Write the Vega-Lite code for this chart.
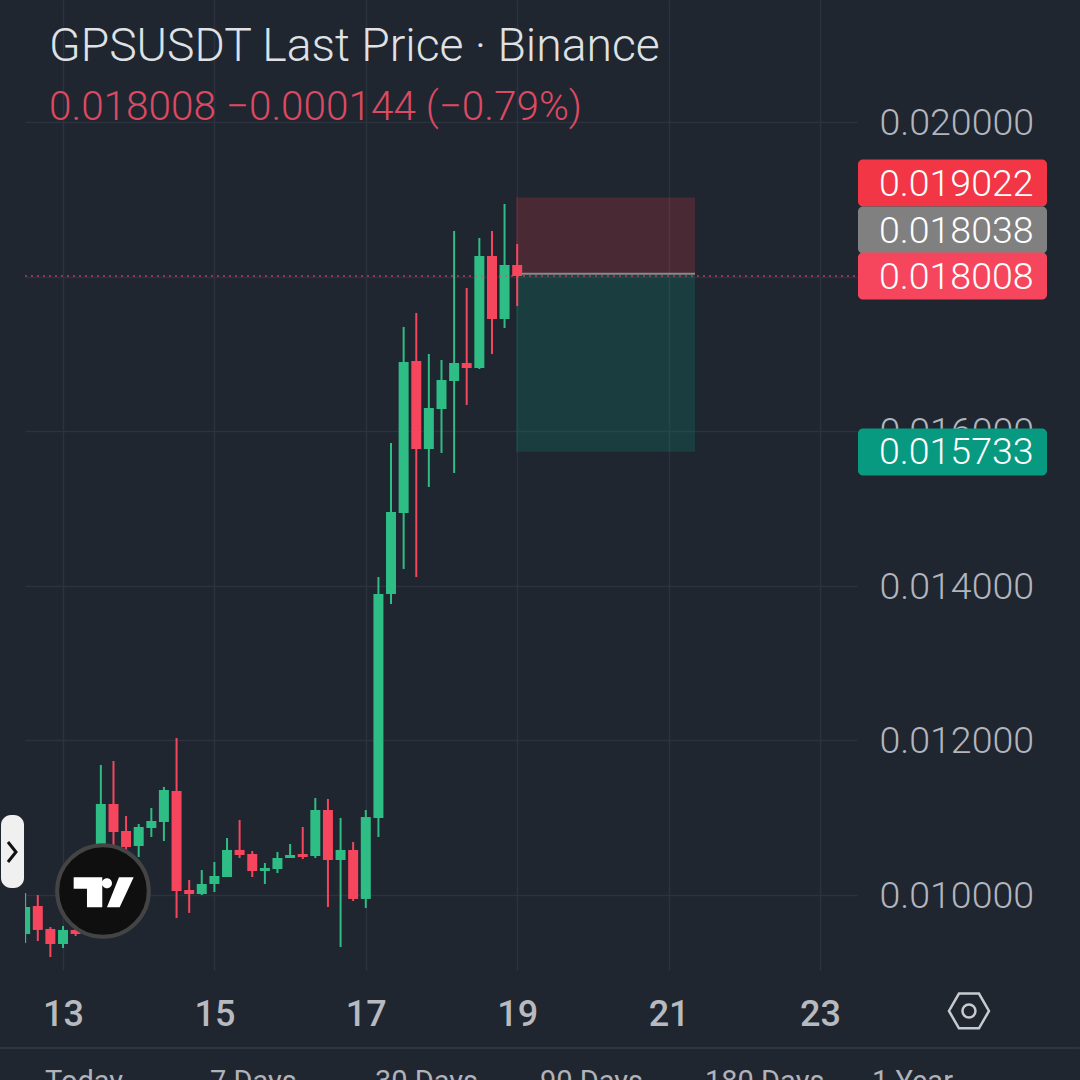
{
  "$schema": "https://vega.github.io/schema/vega-lite/v6.json",
  "width": 832,
  "height": 970,
  "autosize": {"type": "none"},
  "padding": {"left": 25, "top": 0, "right": 223, "bottom": 110},
  "background": "#1f2630",
  "config": {
    "view": {"stroke": null},
    "font": "Roboto"
  },
  "title": {
    "text": "GPSUSDT Last Price · Binance",
    "subtitle": "0.018008  −0.000144 (−0.79%)",
    "anchor": "start",
    "frame": "group",
    "offset": -128,
    "dx": 24,
    "font": "Roboto",
    "fontSize": 46.3,
    "fontWeight": 300,
    "color": "#dfe1e5",
    "subtitleFont": "Roboto",
    "subtitleFontSize": 40.5,
    "subtitleFontWeight": 300,
    "subtitleColor": "#dc4a62",
    "subtitlePadding": 17
  },
  "datasets": {
    "candles": [
      {"t": 12.5, "open": 0.009495, "close": 0.009844, "high": 0.010026, "low": 0.009378},
      {"t": 12.667, "open": 0.009857, "close": 0.009547, "high": 0.009999, "low": 0.009404},
      {"t": 12.833, "open": 0.00956, "close": 0.009365, "high": 0.009585, "low": 0.009197},
      {"t": 13, "open": 0.009365, "close": 0.009547, "high": 0.009598, "low": 0.009314},
      {"t": 13.167, "open": 0.009547, "close": 0.009495, "high": 0.009572, "low": 0.009469},
      {"t": 13.333, "open": 0.009611, "close": 0.00987, "high": 0.009935, "low": 0.009547},
      {"t": 13.5, "open": 0.010452, "close": 0.011177, "high": 0.011681, "low": 0.010323},
      {"t": 13.667, "open": 0.011177, "close": 0.010814, "high": 0.011733, "low": 0.010582},
      {"t": 13.833, "open": 0.010827, "close": 0.01062, "high": 0.011021, "low": 0.010452},
      {"t": 14, "open": 0.010633, "close": 0.010879, "high": 0.010918, "low": 0.010491},
      {"t": 14.167, "open": 0.010866, "close": 0.010957, "high": 0.011125, "low": 0.01075},
      {"t": 14.333, "open": 0.010944, "close": 0.011358, "high": 0.011397, "low": 0.010698},
      {"t": 14.5, "open": 0.011345, "close": 0.010051, "high": 0.012031, "low": 0.009702},
      {"t": 14.667, "open": 0.010064, "close": 0.010012, "high": 0.010193, "low": 0.009767},
      {"t": 14.833, "open": 0.010012, "close": 0.010142, "high": 0.010323, "low": 0.009999},
      {"t": 15, "open": 0.010142, "close": 0.010245, "high": 0.010426, "low": 0.010038},
      {"t": 15.167, "open": 0.010232, "close": 0.010582, "high": 0.010737, "low": 0.010232},
      {"t": 15.333, "open": 0.010582, "close": 0.010517, "high": 0.01097, "low": 0.010478},
      {"t": 15.5, "open": 0.01053, "close": 0.01031, "high": 0.010569, "low": 0.010232},
      {"t": 15.667, "open": 0.01031, "close": 0.010349, "high": 0.010413, "low": 0.010142},
      {"t": 15.833, "open": 0.010336, "close": 0.010478, "high": 0.010556, "low": 0.010284},
      {"t": 16, "open": 0.010478, "close": 0.010517, "high": 0.010659, "low": 0.010478},
      {"t": 16.167, "open": 0.01053, "close": 0.010491, "high": 0.010879, "low": 0.010465},
      {"t": 16.333, "open": 0.010504, "close": 0.011099, "high": 0.011254, "low": 0.010478},
      {"t": 16.5, "open": 0.011099, "close": 0.010452, "high": 0.011241, "low": 0.009844},
      {"t": 16.667, "open": 0.010452, "close": 0.010582, "high": 0.010996, "low": 0.009327},
      {"t": 16.833, "open": 0.010582, "close": 0.009948, "high": 0.010685, "low": 0.009922},
      {"t": 17, "open": 0.009948, "close": 0.011008, "high": 0.011099, "low": 0.009831},
      {"t": 17.167, "open": 0.010996, "close": 0.013893, "high": 0.014113, "low": 0.01075},
      {"t": 17.333, "open": 0.013893, "close": 0.014954, "high": 0.015847, "low": 0.013764},
      {"t": 17.5, "open": 0.014941, "close": 0.016895, "high": 0.017348, "low": 0.014217},
      {"t": 17.667, "open": 0.016908, "close": 0.015769, "high": 0.017529, "low": 0.014113},
      {"t": 17.833, "open": 0.015769, "close": 0.0163, "high": 0.016998, "low": 0.015278},
      {"t": 18, "open": 0.016287, "close": 0.016662, "high": 0.016921, "low": 0.015718},
      {"t": 18.167, "open": 0.016649, "close": 0.016882, "high": 0.01859, "low": 0.015459},
      {"t": 18.333, "open": 0.016882, "close": 0.016817, "high": 0.017852, "low": 0.016339},
      {"t": 18.5, "open": 0.016817, "close": 0.018266, "high": 0.018499, "low": 0.016804},
      {"t": 18.667, "open": 0.018266, "close": 0.017451, "high": 0.01859, "low": 0.016998},
      {"t": 18.833, "open": 0.017451, "close": 0.01815, "high": 0.018939, "low": 0.017335},
      {"t": 19, "open": 0.01815, "close": 0.018007, "high": 0.018421, "low": 0.017619}
    ],
    "tags": [
      {"tag": "stop", "price": 0.019022, "tagAt": 0.01921, "label": "0.019022", "t": 23.502, "t2": 25.999, "textT": 23.779},
      {"tag": "entry", "price": 0.018038, "tagAt": 0.018602, "label": "0.018038", "t": 23.502, "t2": 25.999, "textT": 23.779},
      {"tag": "last", "price": 0.018008, "tagAt": 0.018007, "label": "0.018008", "t": 23.502, "t2": 25.999, "textT": 23.779},
      {"tag": "target", "price": 0.015733, "tagAt": 0.015731, "label": "0.015733", "t": 23.502, "t2": 25.999, "textT": 23.779}
    ]
  },
  "encoding": {
    "x": {
      "field": "t",
      "type": "quantitative",
      "title": null,
      "scale": {"domain": [12.498, 23.489], "nice": false, "zero": false, "padding": 0},
      "axis": {
        "values": [13, 15, 17, 19, 21, 23],
        "format": "d",
        "grid": true,
        "gridColor": "#2c333e",
        "gridWidth": 1.5,
        "ticks": false,
        "domain": false,
        "labelFont": "Roboto",
        "labelFontSize": 36,
        "labelFontWeight": 500,
        "labelColor": "#b8babf",
        "labelPadding": 27,
        "labelFlush": false,
        "labelBound": false
      }
    },
    "y": {
      "field": "price",
      "type": "quantitative",
      "title": null,
      "scale": {"domain": [0.009029, 0.021578], "nice": false, "zero": false, "padding": 0},
      "axis": {
        "orient": "right",
        "values": [0.01, 0.012, 0.014, 0.016, 0.018, 0.02],
        "format": ".6f",
        "grid": true,
        "gridColor": "#2c333e",
        "gridWidth": 1.5,
        "ticks": false,
        "domain": false,
        "labelFont": "Roboto",
        "labelFontSize": 37.5,
        "labelFontWeight": 300,
        "labelColor": "#b2b5be",
        "labelPadding": 22,
        "labelOffset": 1.5,
        "labelFlush": false,
        "labelBound": false
      }
    }
  },
  "layer": [
    {
      "data": {"values": [
        {"tag": "stop", "t": 18.984, "t2": 21.349, "price": 0.019022, "price2": 0.018038},
        {"tag": "target", "t": 18.984, "t2": 21.349, "price": 0.018038, "price2": 0.015733}
      ]},
      "mark": {"type": "rect", "opacity": 0.2},
      "encoding": {
        "x2": {"field": "t2"},
        "y2": {"field": "price2"},
        "color": {
          "field": "tag",
          "type": "nominal",
          "legend": null,
          "scale": {
            "domain": ["stop", "entry", "last", "target"],
            "range": ["#f23645", "#808080", "#f6465d", "#089981"]
          }
        }
      }
    },
    {
      "data": {"values": [{"t": 18.984, "t2": 21.349, "price": 0.018038}]},
      "mark": {"type": "rule", "color": "#8a8a8a", "strokeWidth": 2},
      "encoding": {"x2": {"field": "t2"}}
    },
    {
      "data": {"name": "candles"},
      "mark": {"type": "rule", "strokeWidth": 2, "clip": true},
      "encoding": {
        "y": {"field": "high", "type": "quantitative", "title": null},
        "y2": {"field": "low"},
        "color": {"condition": {"test": "datum.close >= datum.open", "value": "#2ebd85"}, "value": "#f6465d"}
      }
    },
    {
      "data": {"name": "candles"},
      "mark": {"type": "bar", "size": 10, "clip": true},
      "encoding": {
        "y": {"field": "open", "type": "quantitative", "title": null},
        "y2": {"field": "close"},
        "color": {"condition": {"test": "datum.close >= datum.open", "value": "#2ebd85"}, "value": "#f6465d"}
      }
    },
    {
      "data": {"values": [{"t": 12.498, "t2": 23.489, "price": 0.018008}]},
      "mark": {"type": "rule", "color": "#f6465d", "opacity": 0.7, "strokeWidth": 1.5, "strokeDash": [2, 4]},
      "encoding": {"x2": {"field": "t2"}}
    },
    {
      "data": {"name": "tags"},
      "mark": {"type": "rect", "height": 47, "cornerRadius": 5},
      "encoding": {
        "x2": {"field": "t2"},
        "y": {"field": "tagAt", "type": "quantitative", "title": null},
        "color": {"field": "tag", "type": "nominal", "legend": null}
      }
    },
    {
      "data": {"name": "tags"},
      "mark": {"type": "text", "align": "left", "baseline": "middle", "dy": 1.5, "font": "Roboto", "fontSize": 37.5, "fontWeight": 300, "color": "#ffffff"},
      "encoding": {
        "x": {"field": "textT", "type": "quantitative", "title": null},
        "y": {"field": "tagAt", "type": "quantitative", "title": null},
        "text": {"field": "label"}
      }
    },
    {
      "data": {"values": [{"t": 12.168, "t2": 26.434, "price": 0.00802}]},
      "mark": {"type": "rule", "color": "#343b46", "strokeWidth": 1.5},
      "encoding": {"x2": {"field": "t2"}}
    },
    {
      "data": {"values": [
        {"label": "Today", "t": 12.762, "price": 0.007464},
        {"label": "7 Days", "t": 14.942, "price": 0.007464},
        {"label": "30 Days", "t": 17.121, "price": 0.007464},
        {"label": "90 Days", "t": 19.301, "price": 0.007464},
        {"label": "180 Days", "t": 21.481, "price": 0.007464},
        {"label": "1 Year", "t": 23.687, "price": 0.007464}
      ]},
      "mark": {"type": "text", "align": "left", "baseline": "alphabetic", "font": "Roboto", "fontSize": 29, "color": "#b0b3ba"},
      "encoding": {"text": {"field": "label"}}
    },
    {
      "data": {"values": [{"t": 24.968, "price": 0.008499}]},
      "mark": {"type": "point", "shape": "M-0.5,-0.87L0.5,-0.87L1,0L0.5,0.87L-0.5,0.87L-1,0Z", "size": 1600, "filled": false, "color": "#c8cad0", "strokeWidth": 2.5, "opacity": 1}
    },
    {
      "data": {"values": [{"t": 24.968, "price": 0.008499}]},
      "mark": {"type": "point", "shape": "circle", "size": 169, "filled": false, "color": "#c8cad0", "strokeWidth": 2.5, "opacity": 1}
    },
    {
      "data": {"values": [{"t": 12.181, "t2": 12.485, "price": 0.011034, "price2": 0.01009}]},
      "mark": {"type": "rect", "color": "#f0f0f0", "cornerRadius": 10},
      "encoding": {"x2": {"field": "t2"}, "y2": {"field": "price2"}}
    },
    {
      "data": {"values": [{"t": 12.326, "price": 0.010556}]},
      "mark": {"type": "point", "shape": "M-0.4,-1L0.4,0L-0.4,1", "size": 400, "filled": false, "color": "#111111", "strokeWidth": 3, "opacity": 1}
    },
    {
      "data": {"values": [{"t": 13.528, "price": 0.010051}]},
      "mark": {"type": "point", "shape": "circle", "size": 8400, "filled": true, "fill": "#0f0f0f", "stroke": "#444444", "strokeWidth": 4, "opacity": 1}
    },
    {
      "data": {"values": [{"t": 13.528, "price": 0.010051}]},
      "mark": {"type": "point", "shape": "M-1.465,-0.685L-0.035,-0.685L-0.035,0.815L-0.8,0.815L-0.8,-0.115L-1.465,-0.115ZM1.535,-0.685L0.8,-0.685L0.2,0.815L0.835,0.815ZM-0.05,-0.385A0.25,0.25 0 1 1 0.45,-0.385A0.25,0.25 0 1 1 -0.05,-0.385Z", "size": 1600, "filled": true, "fill": "#ffffff", "opacity": 1, "strokeWidth": 0}
    }
  ]
}
